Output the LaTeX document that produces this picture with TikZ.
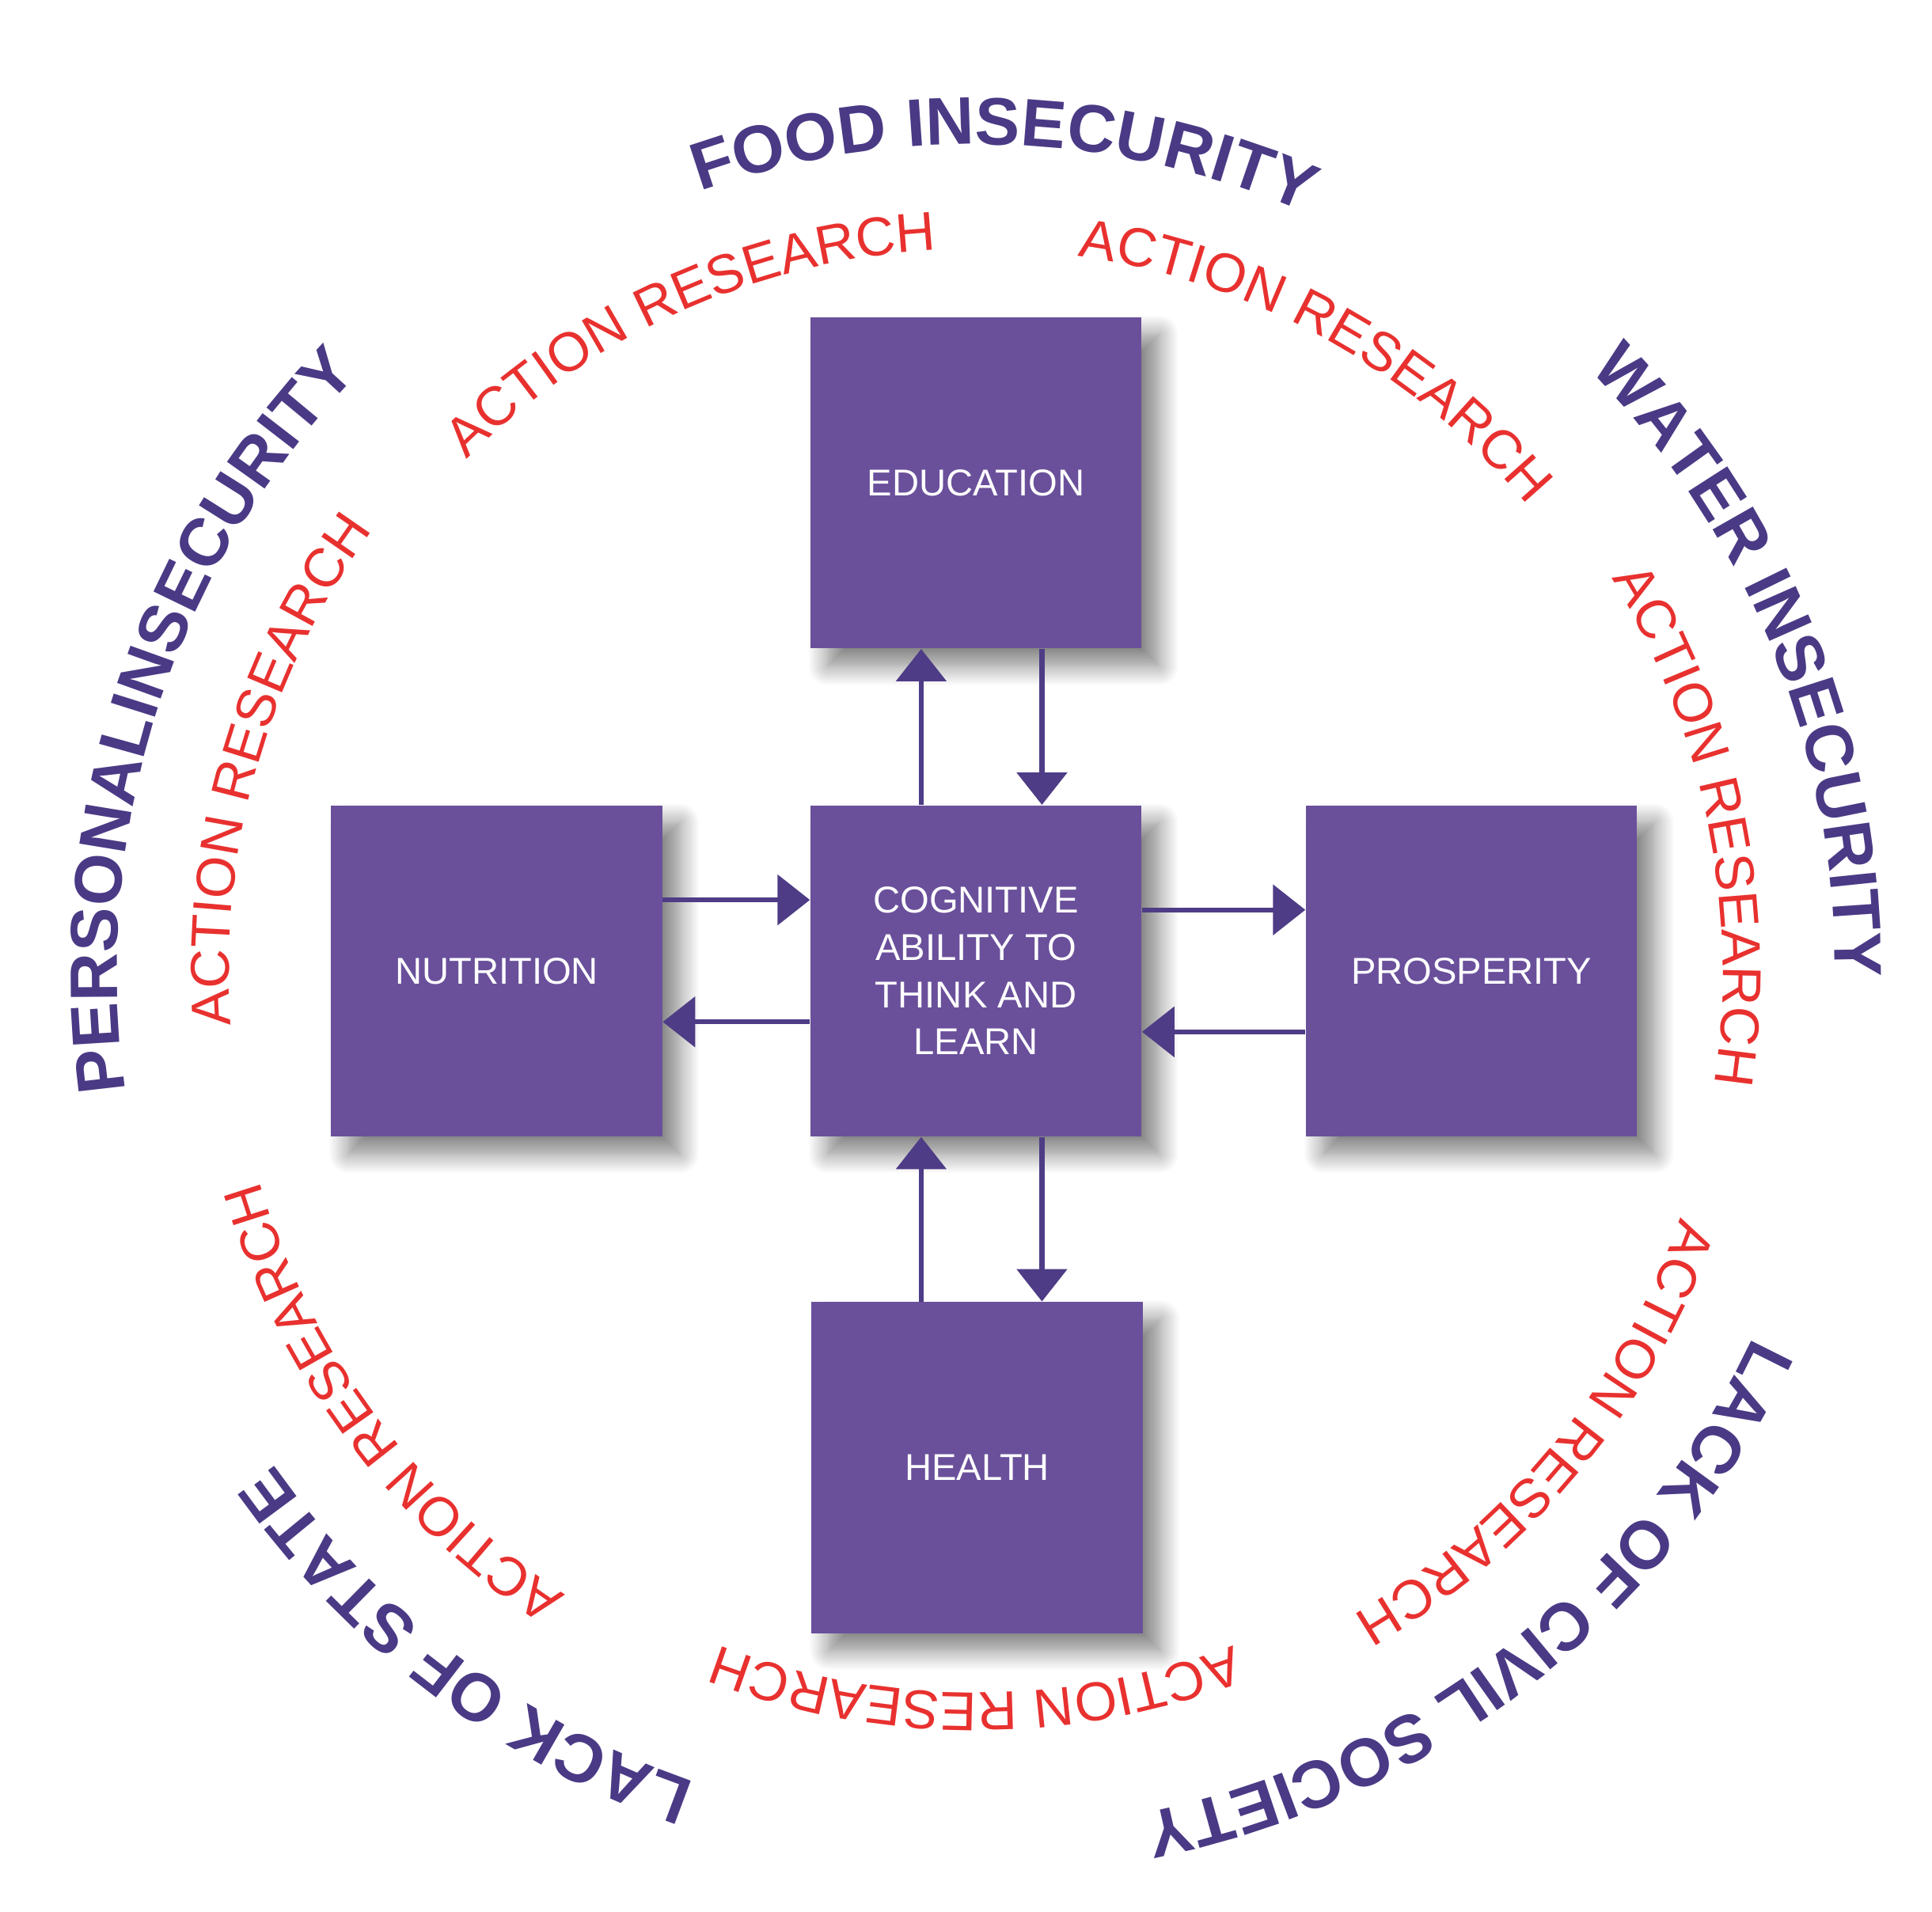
\documentclass[tikz,border=0pt]{standalone}
\usepackage{fontspec}
\setmainfont{Liberation Sans}
\usetikzlibrary{shadows.blur,arrows.meta,decorations.text}
\definecolor{boxc}{HTML}{6A509B}
\definecolor{arrc}{HTML}{4E3C86}
\definecolor{outc}{HTML}{4A3A85}
\definecolor{redc}{HTML}{E8312F}
\tikzset{
  bx/.style={fill=boxc,minimum width=133pt,minimum height=133pt,inner sep=0pt,text=white,font=\fontsize{15}{19}\selectfont,align=center,blur shadow={shadow xshift=7pt,shadow yshift=-7pt,shadow blur steps=14,shadow blur radius=8pt,shadow opacity=50}},
  arr/.style={draw=arrc,line width=2pt,-{Triangle[width=20pt,length=13pt]}},
}
\newcommand{\arclabel}[5]{% a1 a2 r text style
  \path[decorate,decoration={text along path,text align=center,text={|#5|#4}}]
    (784,756) ++(#1:#3pt) arc[start angle=#1,end angle=#2,radius=#3pt];}
\begin{document}
\begin{tikzpicture}[x=0.5pt,y=0.5pt]
\useasboundingbox (0,0) rectangle (1552,1536);
\node[bx] (edu) at (784,1148) {EDUCATION};
\node[bx] (cent) at (784,756) {COGNITIVE\\ABILITY TO\\THINK AND\\LEARN};
\node[bx] (nut) at (399,756) {NUTRITION};
\node[bx] (pros) at (1182,756) {PROSPERITY};
\node[bx] (hea) at (785,357) {HEALTH};
\coordinate (xa) at (740,0);
\coordinate (xb) at (837,0);
\coordinate (y1) at (0,813);
\coordinate (y2) at (0,715);
\coordinate (y3) at (0,805);
\coordinate (y4) at (0,707);
\draw[arr] (cent.north -| xa) -- (edu.south -| xa);
\draw[arr] (edu.south -| xb) -- (cent.north -| xb);
\draw[arr] (hea.north -| xa) -- (cent.south -| xa);
\draw[arr] (cent.south -| xb) -- (hea.north -| xb);
\draw[arr] (nut.east |- y1) -- (cent.west |- y1);
\draw[arr] (cent.west |- y2) -- (nut.east |- y2);
\draw[arr] (cent.east |- y3) -- (pros.west |- y3);
\draw[arr] (pros.west |- y4) -- (cent.east |- y4);
\def\ob{\color{outc}\bfseries\fontsize{27}{27}\selectfont}
\def\rd{\color{redc}\fontsize{22}{22}\selectfont}
\arclabel{112}{64}{332}{FOOD INSECURITY}{\ob}
\arclabel{48}{-4}{345}{WATER INSECURITY}{\ob}
\arclabel{-22}{-82}{345}{LACK OF CIVIL SOCIETY}{\ob}
\arclabel{-106}{-148}{345}{LACK OF STATE}{\ob}
\arclabel{192}{132}{345}{PERSONALINSECURITY}{\ob}
\arclabel{138}{90}{290}{ACTION RESEARCH}{\rd}
\arclabel{85}{37}{290}{ACTION RESEARCH}{\rd}
\arclabel{35}{-12}{300}{ACTION RESEARCH}{\rd}
\arclabel{-16}{-63}{300}{ACTION RESEARCH}{\rd}
\arclabel{-66}{-114}{290}{ACTION RESEARCH}{\rd}
\arclabel{-119}{-168}{300}{ACTION RESEARCH}{\rd}
\arclabel{188}{140}{300}{ACTION RESEARCH}{\rd}
\end{tikzpicture}
\end{document}
